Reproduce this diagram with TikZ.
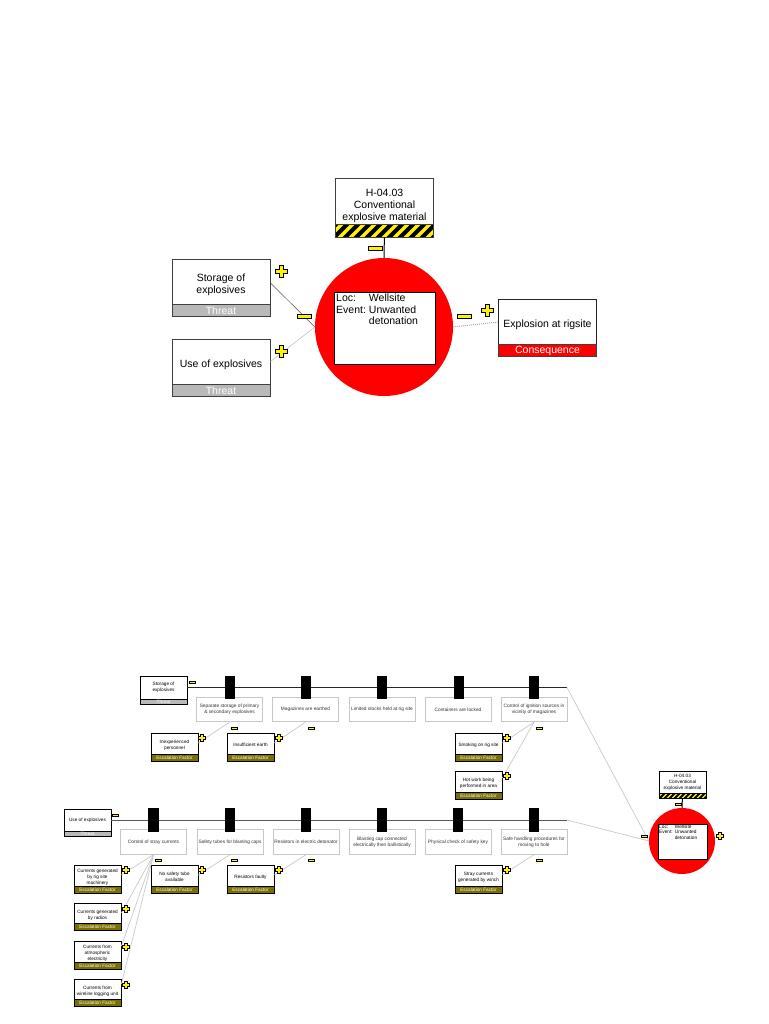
\documentclass[tikz,border=0pt]{standalone}
\usepackage{fontspec}
\setmainfont{Liberation Sans}

\definecolor{efolive}{RGB}{122,112,0}
\definecolor{threatgrey}{RGB}{184,184,184}
\definecolor{edgegrey}{RGB}{200,200,200}

\tikzset{
  bigbody/.style = {draw = black!75, line width = 1pt, fill = white, inner sep = 0pt, minimum width = 98pt, align = center, font = \fontsize{10.5}{12}\selectfont},
  bigband/.style = {bigbody, text = white, minimum height = 12pt},
  tinybody/.style = {draw = black, line width = .8pt, fill = white, inner sep = 0pt, minimum width = 47pt, align = center, font = \fontsize{4.7}{6}\selectfont},
  tinyband/.style = {tinybody, text = white, draw = black},
  barrierbox/.style = {draw = edgegrey, line width = .8pt, fill = white, inner sep = 0pt, minimum width = 66pt, minimum height = 24.5pt, align = center, font = \fontsize{4.8}{6.5}\selectfont, text = black!80},
  barrier/.style = {fill = black, inner sep = 0pt, minimum width = 10.5pt, minimum height = 23.5pt},
  redball/.style = {circle, fill = red, inner sep = 0pt},
  stripes/.style = {fill = yellow, path picture = {
    \foreach \k in {-6,...,6}
      \draw [black, line width = #1*0.36pt, shift = {(path picture bounding box.center)}] (\k*#1-#1,#1) -- (\k*#1+#1,-#1);
  }},
  thinline/.style = {draw = edgegrey, line width = .7pt},
  plusmark/.pic = {
    \draw [fill = yellow, line width = .9pt, line join = miter] (-2,-6) -- (2,-6) -- (2,-2) -- (6,-2) -- (6,2) -- (2,2) -- (2,6) -- (-2,6) -- (-2,2) -- (-6,2) -- (-6,-2) -- (-2,-2) -- cycle;
  },
  minusmark/.pic = {
    \draw [fill = yellow, line width = 1pt] (-7,-2) rectangle (7,2);
  },
  tinyminus/.pic = {
    \draw [fill = yellow, line width = .6pt] (-3,-1) rectangle (3,1);
  }
}

\begin{document}
\begin{tikzpicture}[x = 1pt, y = -1pt]

\useasboundingbox (0,0) rectangle (768,1024);

% upper picture
\node [redball, minimum size = 138pt] (ev1) at (384,327) {};
\node [draw = black, line width = 1pt, fill = white, minimum width = 101pt, minimum height = 72pt, inner sep = 0pt] (evbox1) at (384.5,328) {};
\node [anchor = north west, inner sep = 0pt, font = \fontsize{10.5}{11.5}\selectfont] (evtext1) at (336,293.5) {\begin{tabular}{@{}l@{\hspace{3pt}}l@{}}Loc: & Wellsite\\ Event: & Unwanted\\ & detonation\end{tabular}};

\node [bigbody, minimum height = 54pt] (hz1) at (384.5,206) {H-04.03\\Conventional\\explosive material};
\node [bigbody, stripes = 11, minimum height = 12pt] (hzband1) at (384.5,231) {};

\node [bigbody, minimum height = 51pt] (th1) at (221,284.5) {Storage of\\explosives};
\node [bigband, fill = threatgrey] (thband1) at (221,310.5) {Threat};
\node [bigbody, minimum height = 51pt] (th2) at (221,364.5) {Use of explosives};
\node [bigband, fill = threatgrey] (thband2) at (221,390.5) {Threat};

\node [bigbody, draw = black!85, minimum height = 52pt] (con1) at (547.5,325) {Explosion at rigsite};
\node [bigband, fill = red, draw = black!75] (conband1) at (547.5,350.5) {Consequence};

\draw [line width = 1pt, black] (hzband1) -- (ev1.north);
\draw [line width = .5pt, black!70] ([yshift = 1.5pt]th1.east) -- (ev1.west);
\draw [thinline] ([yshift = 3pt]th2.east) -- (ev1.west);
\draw [draw = black!35, densely dotted, line width = 1pt] ([yshift = 3pt]con1.west) -- (ev1.east);

\pic at (281.5,271) {plusmark};
\pic at (281.5,351) {plusmark};
\pic at (487,310) {plusmark};
\pic at (375,248) {minusmark};
\pic at (304.5,316.5) {minusmark};
\pic at (464.5,316.5) {minusmark};

% lower picture, event
\node [redball, minimum size = 66pt] (ev2) at (682,841) {};
\node [draw = black, line width = 1pt, fill = white, minimum width = 49pt, minimum height = 35pt, inner sep = 0pt] (evbox2) at (682.5,841.5) {};
\node [anchor = north west, inner sep = 0pt, font = \fontsize{4.8}{5.3}\selectfont] (evtext2) at (659,824.5) {\begin{tabular}{@{}l@{\hspace{2pt}}l@{}}Loc: & Wellsite\\ Event: & Unwanted\\ & detonation\end{tabular}};
\node [tinybody, minimum height = 22pt] (hz2) at (682.5,782) {H-04.03\\Conventional\\explosive material};
\node [tinybody, stripes = 5, minimum height = 5pt] (hzband2) at (682.5,795.5) {};

% upper line
\node [tinybody, minimum height = 23pt] (th3) at (163.5,687.5) {Storage of\\explosives};
\node [tinyband, fill = threatgrey, minimum height = 5pt] (thband3) at (163.5,701.5) {Threat};
\coordinate (end1) at (567,687.5);

\node [barrierbox] (b1) at (229.5,709.5) {Separate storage of primary\\\& secondary explosives};
\node [barrierbox] (b2) at (305.5,709.5) {Magazines are earthed};
\node [barrierbox] (b3) at (382,709.5) {Limited stocks held at rig site};
\node [barrierbox] (b4) at (458,709.5) {Containers are locked};
\node [barrierbox] (b5) at (534,709.5) {Control of ignition sources in\\vicinity of magazines};

\node [tinybody, minimum height = 24pt] (ef1) at (174.5,745) {Inexperienced\\personnel};
\node [tinyband, fill = efolive, minimum height = 7pt] (efband1) at (174.5,757.5) {Escalation Factor};
\node [tinybody, minimum height = 24pt] (ef2) at (250.5,745) {Insufficient earth};
\node [tinyband, fill = efolive, minimum height = 7pt] (efband2) at (250.5,757.5) {Escalation Factor};
\node [tinybody, minimum height = 24pt] (ef3) at (478.5,745) {Smoking on rig site};
\node [tinyband, fill = efolive, minimum height = 7pt] (efband3) at (478.5,757.5) {Escalation Factor};
\node [tinybody, minimum height = 24pt] (ef4) at (478.5,783) {Hot work being\\performed in area};
\node [tinyband, fill = efolive, minimum height = 7pt] (efband4) at (478.5,795.5) {Escalation Factor};

\draw [line width = 1pt, black!85] (th3) -- (end1);
\draw [thinline] (end1) -- (ev2.west);
\draw [thinline] (b1.south) -- ([yshift = 2pt]ef1.east);
\draw [thinline] (b2.south) -- ([yshift = 2pt]ef2.east);
\draw [thinline] (b5.south) -- ([yshift = 2pt]ef3.east);
\draw [thinline] (b5.south) -- ([yshift = 5pt]ef4.east);

\node [barrier] (bar1) at (230,687.5) {};
\node [barrier] (bar2) at (306,687.5) {};
\node [barrier] (bar3) at (382,687.5) {};
\node [barrier] (bar4) at (459,687.5) {};
\node [barrier] (bar5) at (534,687.5) {};

% lower line
\node [tinybody, minimum height = 22pt] (th4) at (87.5,820) {Use of explosives};
\node [tinyband, fill = threatgrey, minimum height = 5pt] (thband4) at (87.5,833.5) {Threat};
\coordinate (end2) at (567,820);

\node [barrierbox] (b6) at (153.5,842) {Control of stray currents};
\node [barrierbox] (b7) at (230,842) {Safety tubes for blasting caps};
\node [barrierbox] (b8) at (306,842) {Resistors in electric detonator};
\node [barrierbox] (b9) at (382,842) {Blasting cap connected\\electrically then ballistically};
\node [barrierbox] (b10) at (458,842) {Physical check of safety key};
\node [barrierbox] (b11) at (534,842) {Safe handling procedures for\\moving to hole};

\node [tinybody, minimum height = 24pt] (ef5) at (97.5,877) {Currents generated\\by rig site\\machinery};
\node [tinyband, fill = efolive, minimum height = 7pt] (efband5) at (97.5,889.5) {Escalation Factor};
\node [tinybody, minimum height = 24pt] (ef6) at (97.5,915) {Currents generated\\by radios};
\node [tinyband, fill = efolive, minimum height = 7pt] (efband6) at (97.5,927) {Escalation Factor};
\node [tinybody, minimum height = 24pt] (ef7) at (97.5,953) {Currents from\\atmospheric\\electricity};
\node [tinyband, fill = efolive, minimum height = 7pt] (efband7) at (97.5,965.5) {Escalation Factor};
\node [tinybody, minimum height = 24pt] (ef8) at (97.5,991) {Currents from\\wireline logging unit};
\node [tinyband, fill = efolive, minimum height = 7pt] (efband8) at (97.5,1003) {Escalation Factor};

\node [tinybody, minimum height = 24pt] (ef9) at (174.5,877) {No safety tube\\available};
\node [tinyband, fill = efolive, minimum height = 7pt] (efband9) at (174.5,889.5) {Escalation Factor};
\node [tinybody, minimum height = 24pt] (ef10) at (250.5,877) {Resistors faulty};
\node [tinyband, fill = efolive, minimum height = 7pt] (efband10) at (250.5,889.5) {Escalation Factor};
\node [tinybody, minimum height = 24pt] (ef11) at (478.5,877) {Stray currents\\generated by winch};
\node [tinyband, fill = efolive, minimum height = 7pt] (efband11) at (478.5,889.5) {Escalation Factor};

\draw [line width = 1pt, black!65] (th4) -- (end2);
\draw [thinline] (end2) -- (ev2.west);
\draw [thinline] (b6.south) -- ([yshift = 2pt]ef5.east);
\draw [thinline] (b6.south) -- ([yshift = 2pt]ef6.east);
\draw [thinline] (b6.south) -- ([yshift = 7pt]ef7.east);
\draw [thinline] (b6.south) -- ([yshift = 7pt]ef8.east);
\draw [thinline] (b7.south) -- ([yshift = 2pt]ef9.east);
\draw [thinline] (b8.south) -- ([yshift = 2pt]ef10.east);
\draw [thinline] (b11.south) -- ([yshift = 2pt]ef11.east);
\draw [line width = 1pt, black] (hzband2) -- (ev2.north);

\node [barrier] (bar6) at (153.5,820) {};
\node [barrier] (bar7) at (230,820) {};
\node [barrier] (bar8) at (306,820) {};
\node [barrier] (bar9) at (382,820) {};
\node [barrier] (bar10) at (458,820) {};
\node [barrier] (bar11) at (534,820) {};

% small marks
\foreach \px/\py in {202/738, 279/738, 507/738, 507/776, 126/870, 126/909, 126/947, 126/985, 202/870, 279/870, 507/870, 720/836}
  \pic [scale = .65] at (\px,\py) {plusmark};
\foreach \px/\py in {192/682, 234/728, 311/728, 539/728, 115.5/815, 158/860, 234.5/860, 311/860, 539/860, 678/804, 644/836}
  \pic at (\px,\py) {tinyminus};

\end{tikzpicture}
\end{document}
